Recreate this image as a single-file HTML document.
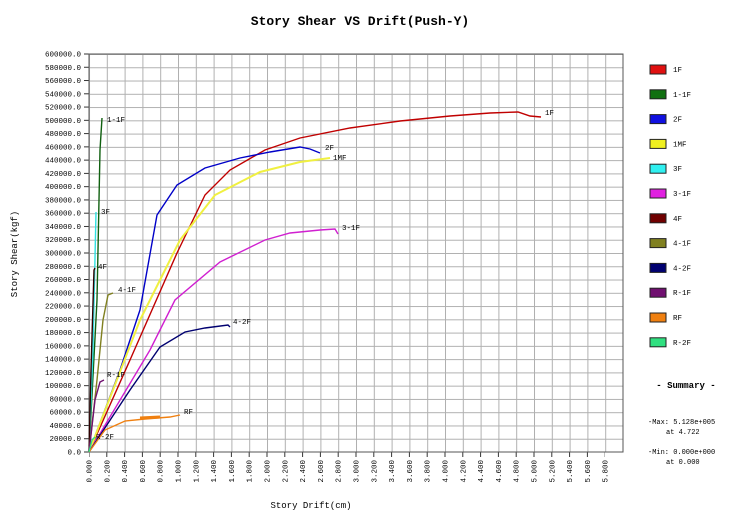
<!DOCTYPE html><html><head><style>body{margin:0;background:#fff}svg{display:block}text{font-family:"Liberation Mono",monospace}</style></head><body>
<svg width="754" height="515" viewBox="0 0 754 515" xmlns="http://www.w3.org/2000/svg">
<defs>
<pattern id="gp" patternUnits="userSpaceOnUse" x="89" y="54" width="17.8" height="13.2667">
<path d="M0 0.5H17.8M0.5 0V13.2667" stroke="#b0b0b0" stroke-width="1" fill="none"/>
</pattern>
<pattern id="ty" patternUnits="userSpaceOnUse" x="0" y="53.5" width="10" height="13.2667">
<path d="M0 0.5H10" stroke="#333" stroke-width="1"/>
</pattern>
<pattern id="tx" patternUnits="userSpaceOnUse" x="88.5" y="0" width="17.8" height="10">
<path d="M0.5 0V10" stroke="#333" stroke-width="1"/>
</pattern>
</defs>
<rect width="754" height="515" fill="#fff"/>
<text x="360" y="25" font-size="13" font-weight="bold" text-anchor="middle">Story Shear VS Drift(Push-Y)</text>
<text transform="translate(17,254) rotate(-90)" font-size="9" text-anchor="middle">Story Shear(kgf)</text>
<text x="311" y="508" font-size="9" text-anchor="middle">Story Drift(cm)</text>
<rect x="89" y="54" width="534" height="398" fill="url(#gp)"/>
<rect x="84" y="53.5" width="5" height="400" fill="url(#ty)"/>
<rect x="89" y="452" width="516" height="5" fill="url(#tx)"/>
<rect x="89" y="54" width="534" height="398" fill="none" stroke="#555"/>
<g font-size="7.5" text-anchor="end">
<text x="81" y="454.5">0.0</text><text x="81" y="441.2">20000.0</text><text x="81" y="428">40000.0</text><text x="81" y="414.7">60000.0</text><text x="81" y="401.4">80000.0</text><text x="81" y="388.2">100000.0</text><text x="81" y="374.9">120000.0</text><text x="81" y="361.6">140000.0</text><text x="81" y="348.4">160000.0</text><text x="81" y="335.1">180000.0</text><text x="81" y="321.8">200000.0</text><text x="81" y="308.6">220000.0</text><text x="81" y="295.3">240000.0</text><text x="81" y="282">260000.0</text><text x="81" y="268.8">280000.0</text><text x="81" y="255.5">300000.0</text><text x="81" y="242.2">320000.0</text><text x="81" y="229">340000.0</text><text x="81" y="215.7">360000.0</text><text x="81" y="202.4">380000.0</text><text x="81" y="189.2">400000.0</text><text x="81" y="175.9">420000.0</text><text x="81" y="162.6">440000.0</text><text x="81" y="149.4">460000.0</text><text x="81" y="136.1">480000.0</text><text x="81" y="122.8">500000.0</text><text x="81" y="109.6">520000.0</text><text x="81" y="96.3">540000.0</text><text x="81" y="83">560000.0</text><text x="81" y="69.8">580000.0</text><text x="81" y="56.5">600000.0</text>
</g>
<g font-size="7.5" text-anchor="end">
<text transform="translate(91.5,460) rotate(-90)">0.000</text>
<text transform="translate(109.3,460) rotate(-90)">0.200</text>
<text transform="translate(127.1,460) rotate(-90)">0.400</text>
<text transform="translate(144.9,460) rotate(-90)">0.600</text>
<text transform="translate(162.7,460) rotate(-90)">0.800</text>
<text transform="translate(180.5,460) rotate(-90)">1.000</text>
<text transform="translate(198.3,460) rotate(-90)">1.200</text>
<text transform="translate(216.1,460) rotate(-90)">1.400</text>
<text transform="translate(233.9,460) rotate(-90)">1.600</text>
<text transform="translate(251.7,460) rotate(-90)">1.800</text>
<text transform="translate(269.5,460) rotate(-90)">2.000</text>
<text transform="translate(287.3,460) rotate(-90)">2.200</text>
<text transform="translate(305.1,460) rotate(-90)">2.400</text>
<text transform="translate(322.9,460) rotate(-90)">2.600</text>
<text transform="translate(340.7,460) rotate(-90)">2.800</text>
<text transform="translate(358.5,460) rotate(-90)">3.000</text>
<text transform="translate(376.3,460) rotate(-90)">3.200</text>
<text transform="translate(394.1,460) rotate(-90)">3.400</text>
<text transform="translate(411.9,460) rotate(-90)">3.600</text>
<text transform="translate(429.7,460) rotate(-90)">3.800</text>
<text transform="translate(447.5,460) rotate(-90)">4.000</text>
<text transform="translate(465.3,460) rotate(-90)">4.200</text>
<text transform="translate(483.1,460) rotate(-90)">4.400</text>
<text transform="translate(500.9,460) rotate(-90)">4.600</text>
<text transform="translate(518.7,460) rotate(-90)">4.800</text>
<text transform="translate(536.5,460) rotate(-90)">5.000</text>
<text transform="translate(554.3,460) rotate(-90)">5.200</text>
<text transform="translate(572.1,460) rotate(-90)">5.400</text>
<text transform="translate(589.9,460) rotate(-90)">5.600</text>
<text transform="translate(607.7,460) rotate(-90)">5.800</text>
</g>
<g fill="none" stroke-width="1.4">
<polyline stroke="#c00000" points="89,452 130,360 177,253 205,195 230,170 265,150 300,138 350,128 400,121 450,116 490,113 518,112 530,116 541,117"/>
<polyline stroke="#0000c8" points="89,452 120,370 140,310 157,215 177,185 205,168 240,158 270,152 300,147 310,149 320,153"/>
<polyline stroke="#f0f040" stroke-width="2" points="89,452 140,320 160,280 180,240 215,195 260,172 300,162 330,158"/>
<polyline stroke="#d020d0" points="89,452 150,350 175,300 220,262 265,240 290,233 320,230 335,229 338,234"/>
<polyline stroke="#000070" points="89,452 130,390 160,347 185,332 205,328 228,325 230,327"/>
<polyline stroke="#106010" points="89,452 97,300 100,150 102,118"/>
<polyline stroke="#30e0e0" points="89,452 93,350 96,212"/>
<polyline stroke="#300000" points="89,452 91,370 94,270 95,268"/>
<polyline stroke="#808020" points="89,452 97,380 103,320 108,295 113,293"/>
<polyline stroke="#701070" points="89,452 95,400 100,382 104,380"/>
<polyline stroke="#f08010" points="89,452 105,430 125,421 145,419 170,417 180,415"/>
<polyline stroke="#f08010" stroke-width="3" points="140,418 160,417"/>
<polyline stroke="#30e080" points="89,452 92,440 95,437"/>
</g>
<g font-size="7.5">
<text x="545" y="115">1F</text><text x="325" y="150">2F</text><text x="333" y="160">1MF</text><text x="342" y="230">3-1F</text><text x="233" y="324">4-2F</text><text x="107" y="122">1-1F</text><text x="101" y="214">3F</text><text x="98" y="269">4F</text><text x="118" y="292">4-1F</text><text x="107" y="377">R-1F</text><text x="184" y="414">RF</text><text x="96" y="439">R-2F</text>
</g>
<g font-size="7.5" stroke="#222">
<rect x="650" y="65" width="16" height="9" fill="#e01010"/>
<rect x="650" y="89.8" width="16" height="9" fill="#107010"/>
<rect x="650" y="114.6" width="16" height="9" fill="#1010e0"/>
<rect x="650" y="139.4" width="16" height="9" fill="#f0f020"/>
<rect x="650" y="164.2" width="16" height="9" fill="#30f0f0"/>
<rect x="650" y="189" width="16" height="9" fill="#e020e0"/>
<rect x="650" y="213.8" width="16" height="9" fill="#700000"/>
<rect x="650" y="238.6" width="16" height="9" fill="#808020"/>
<rect x="650" y="263.4" width="16" height="9" fill="#000070"/>
<rect x="650" y="288.2" width="16" height="9" fill="#701070"/>
<rect x="650" y="313" width="16" height="9" fill="#f08010"/>
<rect x="650" y="337.8" width="16" height="9" fill="#30e080"/>
</g>
<g font-size="7.5">
<text x="673" y="72">1F</text><text x="673" y="96.8">1-1F</text><text x="673" y="121.6">2F</text><text x="673" y="146.4">1MF</text><text x="673" y="171.2">3F</text><text x="673" y="196">3-1F</text><text x="673" y="220.8">4F</text><text x="673" y="245.6">4-1F</text><text x="673" y="270.4">4-2F</text><text x="673" y="295.2">R-1F</text><text x="673" y="320">RF</text><text x="673" y="344.8">R-2F</text>
</g>
<text x="686" y="388" font-size="9" font-weight="bold" text-anchor="middle">- Summary -</text>
<g font-size="7"><text x="648" y="424">-Max: 5.128e+005</text><text x="666" y="434">at  4.722</text><text x="648" y="454">-Min: 0.000e+000</text><text x="666" y="464">at  0.000</text></g>
</svg></body></html>
